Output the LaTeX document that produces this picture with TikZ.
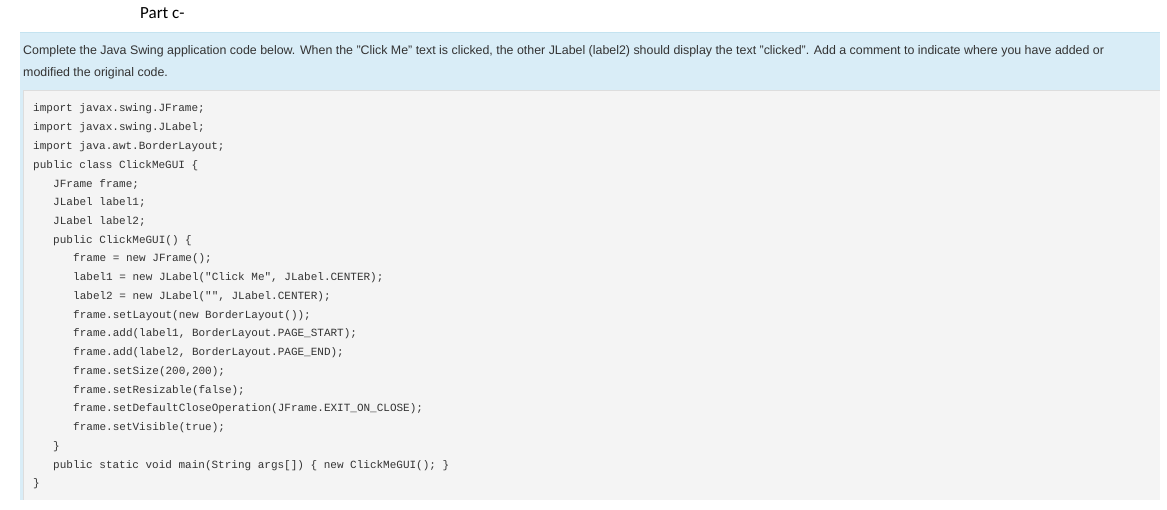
\documentclass[tikz,border=0pt]{standalone}
\usepackage{fontspec}
\setmainfont{Liberation Sans}
\newfontfamily\codefont{Liberation Mono}
\newfontfamily\partfont{Carlito}
\definecolor{infobg}{HTML}{D9EDF7}
\definecolor{infoline}{HTML}{C4E3F0}
\definecolor{codebg}{HTML}{F4F4F4}
\definecolor{codeline}{HTML}{DDDDDD}
\definecolor{txt}{HTML}{333333}
\begin{document}
\begin{tikzpicture}[x=1pt,y=-1pt,
  code/.style={anchor=west,inner sep=0pt,font=\codefont\fontsize{11}{13}\selectfont,text=txt},
  qtext/.style={anchor=west,inner sep=0pt,font=\fontsize{12.4}{15}\selectfont,text=txt}]
\useasboundingbox (0,0) rectangle (1167,509);
\fill[infobg] (20,32) rectangle (1160,500);
\draw[infoline] (20,32.5) -- (1160,32.5);
\fill[codebg] (23,90) rectangle (1160,500);
\draw[codeline] (23,90.5) -- (1160,90.5);
\draw[codeline] (23.5,90) -- (23.5,500);
\node[anchor=west,inner sep=0pt,font=\partfont\fontsize{17}{20}\selectfont] (part) at (140,13) {Part c-};
\node[qtext] (q1) at (23,51) {Complete the Java Swing application code below. When the "Click Me" text is clicked, the other JLabel (label2) should display the text "clicked". Add a comment to indicate where you have added or};
\node[qtext] (q2) at (23,73) {modified the original code.};
\foreach \i/\ind/\t in {
0/0/{import javax.swing.JFrame;},
1/0/{import javax.swing.JLabel;},
2/0/{import java.awt.BorderLayout;},
3/0/{public class ClickMeGUI \{},
4/1/{JFrame frame;},
5/1/{JLabel label1;},
6/1/{JLabel label2;},
7/1/{public ClickMeGUI() \{},
8/2/{frame = new JFrame();},
9/2/{label1 = new JLabel("Click Me", JLabel.CENTER);},
10/2/{label2 = new JLabel("", JLabel.CENTER);},
11/2/{frame.setLayout(new BorderLayout());},
12/2/{frame.add(label1, BorderLayout.PAGE\_START);},
13/2/{frame.add(label2, BorderLayout.PAGE\_END);},
14/2/{frame.setSize(200,200);},
15/2/{frame.setResizable(false);},
16/2/{frame.setDefaultCloseOperation(JFrame.EXIT\_ON\_CLOSE);},
17/2/{frame.setVisible(true);},
18/1/{\}},
19/1/{public static void main(String args[]) \{ new ClickMeGUI(); \}},
20/0/{\}}}
  \node[code] (c\i) at (33+20*\ind,109+18.75*\i) {\t};
\end{tikzpicture}
\end{document}
